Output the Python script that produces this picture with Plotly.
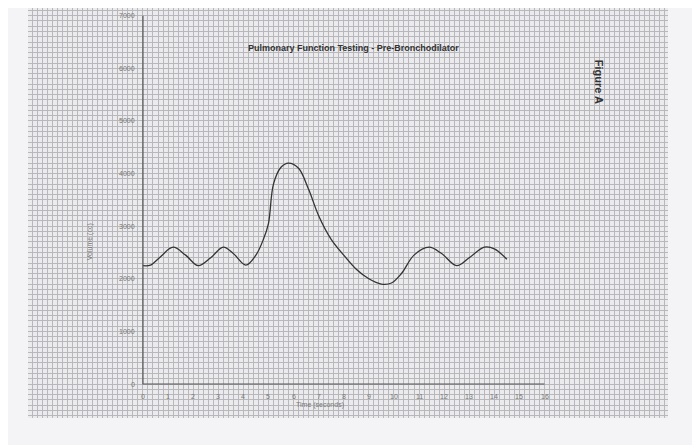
import plotly.graph_objects as go

# volume trace
time_s = [0, 0.3, 0.7, 1.2, 1.7, 2.2, 2.7, 3.2, 3.6, 4.1, 4.5, 4.8, 5.0, 5.2, 5.5, 5.8, 6.2, 6.6, 7.0, 7.5, 8.0, 8.5, 9.0, 9.5, 9.9, 10.3, 10.8, 11.4, 11.9, 12.5, 13.0, 13.6, 14.0, 14.5]
volume_cc = [2250, 2260, 2420, 2600, 2450, 2250, 2400, 2600, 2480, 2260, 2450, 2750, 3050, 3800, 4120, 4200, 4100, 3700, 3200, 2750, 2450, 2180, 2000, 1900, 1920, 2100, 2450, 2600, 2480, 2250, 2400, 2600, 2570, 2370]
x_ticks = list(range(0, 17))
y_ticks = [0, 1000, 2000, 3000, 4000, 5000, 6000, 7000]

fig = go.Figure()
fig.add_trace(go.Scatter(x=time_s, y=volume_cc, mode="lines", line=dict(color="#333", width=1.3, shape="spline")))

# axes drawn at zero, like the printed paper
fig.add_trace(go.Scatter(x=[0, 0, 16], y=[7000, 0, 0], mode="lines", line=dict(color="#555", width=1.2)))
for t in x_ticks:
    fig.add_annotation(x=t, y=-130, text=str(t), showarrow=False, yanchor="top", font=dict(size=7, color="#777"))
for v in y_ticks:
    fig.add_annotation(x=-0.25, y=v, text=str(v), showarrow=False, xanchor="right", font=dict(size=7, color="#777"))

fig.add_annotation(x=8.4, y=6390, text="<b>Pulmonary Function Testing - Pre-Bronchodilator</b>", showarrow=False,
                   font=dict(size=9, color="#333"))
fig.add_annotation(x=18.2, y=5750, text="<b>Figure A</b>", textangle=90, showarrow=False, font=dict(size=11, color="#333"))
fig.add_annotation(x=-2.1, y=2700, text="Volume (cc)", textangle=-90, showarrow=False, font=dict(size=7, color="#777"))
fig.add_annotation(x=7.05, y=-280, text="Time (seconds)", showarrow=False, yanchor="top", font=dict(size=7, color="#777"))

fig.update_xaxes(range=[-4.58, 20.92], dtick=0.2, showgrid=True, gridcolor="#b8b8bc", gridwidth=0.6,
                 showticklabels=False, zeroline=False)
fig.update_yaxes(range=[-646, 7147], dtick=100, showgrid=True, gridcolor="#b8b8bc", gridwidth=0.6,
                 showticklabels=False, zeroline=False)
fig.update_layout(width=700, height=445, margin=dict(l=20, r=40, t=0, b=35), showlegend=False,
                  plot_bgcolor="#ebebed", paper_bgcolor="#f4f4f6", font=dict(family="Liberation Sans"))
fig.write_html("out.html")
